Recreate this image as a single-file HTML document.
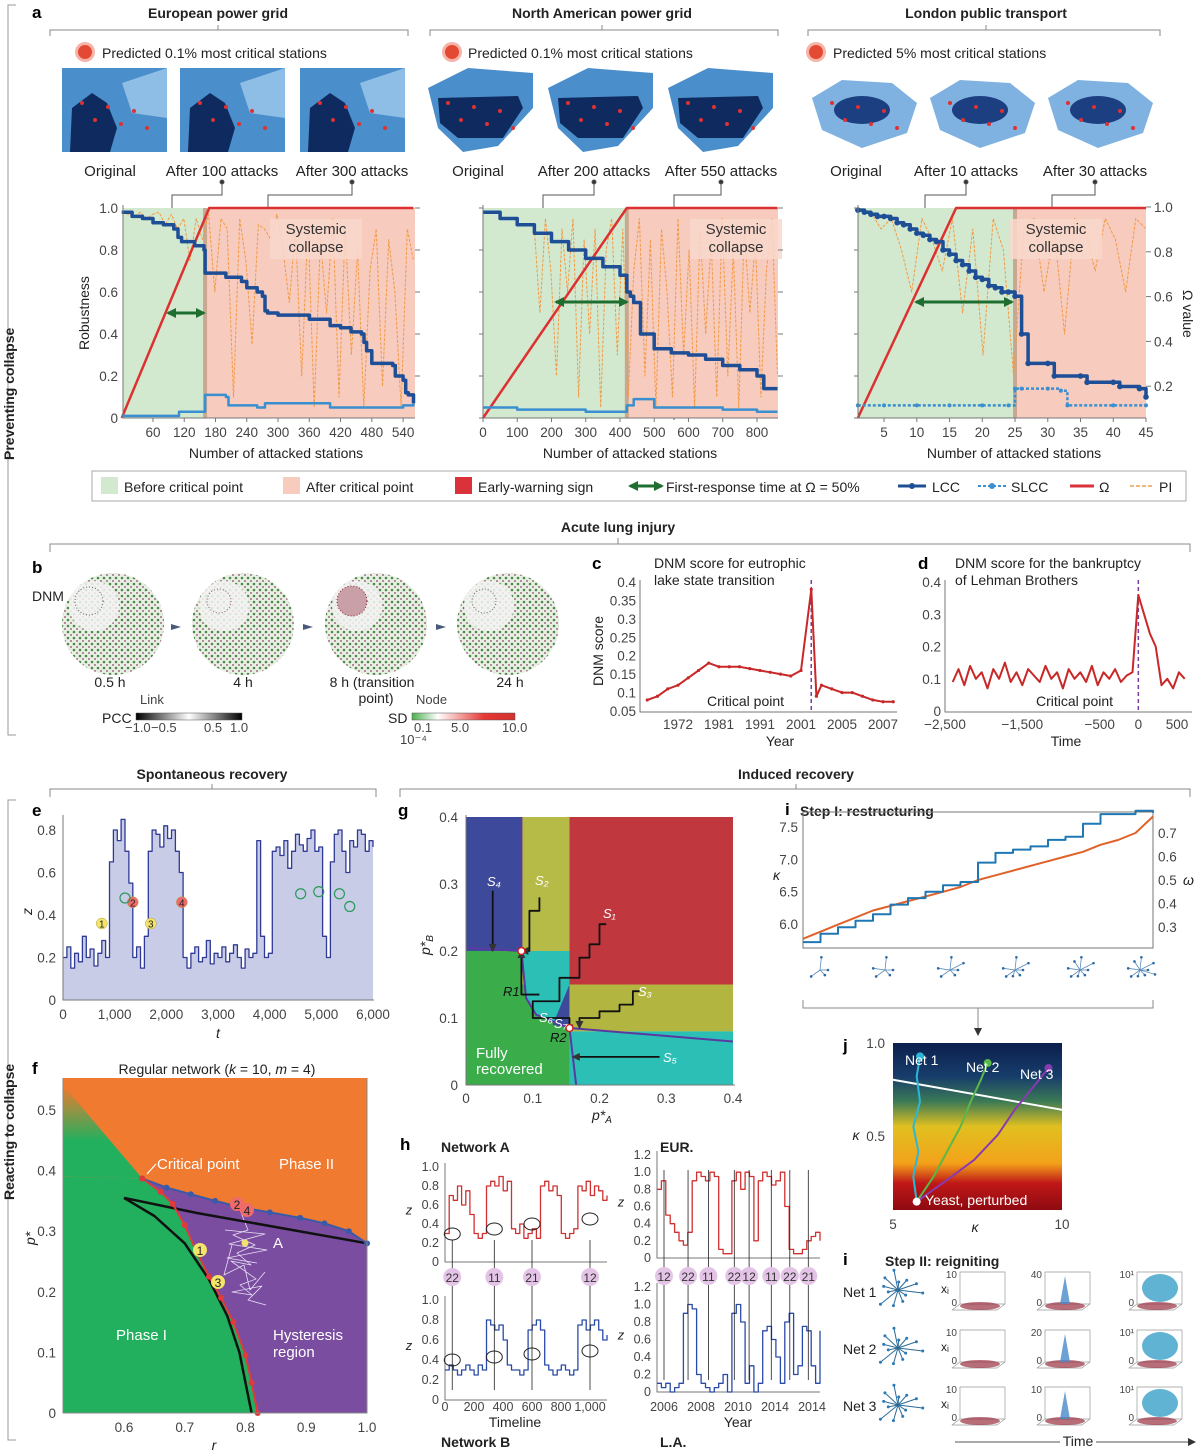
<!DOCTYPE html>
<html><head><meta charset="utf-8">
<style>
html,body{margin:0;padding:0;background:#fff;}
svg{display:block;font-family:"Liberation Sans",sans-serif;}
.t{font-size:14px;fill:#222;}
.tk{font-size:13px;fill:#444;}
.b{font-weight:bold;}
</style></head>
<body>
<svg id="fig" width="1200" height="1451" viewBox="0 0 1200 1451" xmlns="http://www.w3.org/2000/svg">
<defs>
<linearGradient id="pccg" x1="0" x2="1"><stop offset="0" stop-color="#000"/><stop offset="0.5" stop-color="#fff"/><stop offset="1" stop-color="#000"/></linearGradient>
<linearGradient id="sdg" x1="0" x2="1"><stop offset="0" stop-color="#4caf50"/><stop offset="0.25" stop-color="#fff"/><stop offset="0.7" stop-color="#e53935"/><stop offset="1" stop-color="#d32f2f"/></linearGradient>
<linearGradient id="jg" x1="0" y1="0" x2="0" y2="1"><stop offset="0" stop-color="#0c1f4d"/><stop offset="0.2" stop-color="#173d6b"/><stop offset="0.35" stop-color="#3b7a55"/><stop offset="0.5" stop-color="#e0c020"/><stop offset="0.72" stop-color="#f3a21a"/><stop offset="0.84" stop-color="#c01818"/><stop offset="1" stop-color="#8e0a10"/></linearGradient>
<linearGradient id="fgreen" x1="0" y1="0" x2="0" y2="1"><stop offset="0" stop-color="#f07a30"/><stop offset="0.6" stop-color="#22b05e"/><stop offset="1" stop-color="#22b05e"/></linearGradient>
<pattern id="dots" width="6" height="6" patternUnits="userSpaceOnUse"><rect width="6" height="6" fill="#e8efe4"/><circle cx="2" cy="2" r="1.3" fill="#4f8a4a"/><circle cx="5" cy="5" r="0.9" fill="#8a4a5a"/></pattern>
<marker id="ar" markerUnits="userSpaceOnUse" markerWidth="10" markerHeight="10" refX="8" refY="5" orient="auto"><path d="M0,0 L10,5 L0,10z" fill="#1e6e30"/></marker>
<marker id="al" markerUnits="userSpaceOnUse" markerWidth="10" markerHeight="10" refX="2" refY="5" orient="auto"><path d="M10,0 L0,5 L10,10z" fill="#1e6e30"/></marker>
<marker id="ak" markerUnits="userSpaceOnUse" markerWidth="8" markerHeight="8" refX="7" refY="4" orient="auto"><path d="M0,0 L8,4 L0,8z" fill="#333"/></marker>
</defs>

<g>
<path d="M16,5 H8 V735 H16" fill="none" stroke="#999"/>
<text class="t b" transform="translate(14,460) rotate(-90)" font-size="14">Preventing collapse</text>
<path d="M16,800 H8 V1440 H16" fill="none" stroke="#999"/>
<text class="t b" transform="translate(14,1200) rotate(-90)" font-size="14">Reacting to collapse</text>
</g>

<g>
<text x="32" y="18" class="b" font-size="17">a</text>
<text x="218" y="18" class="t b" text-anchor="middle">European power grid</text>
<path d="M50,36 V30 H408 V36 M218,30 V25" fill="none" stroke="#888"/>
<text x="602" y="18" class="t b" text-anchor="middle">North American power grid</text>
<path d="M430,36 V30 H778 V36 M602,30 V25" fill="none" stroke="#888"/>
<text x="986" y="18" class="t b" text-anchor="middle">London public transport</text>
<path d="M808,36 V30 H1160 V36 M986,30 V25" fill="none" stroke="#888"/>
<circle cx="85" cy="52" r="10" fill="#f6b3a8"/><circle cx="85" cy="52" r="7" fill="#e34a33"/>
<text x="102" y="58" class="t" font-size="15">Predicted 0.1% most critical stations</text>
<circle cx="452" cy="52" r="10" fill="#f6b3a8"/><circle cx="452" cy="52" r="7" fill="#e34a33"/>
<text x="468" y="58" class="t" font-size="15">Predicted 0.1% most critical stations</text>
<circle cx="816" cy="52" r="10" fill="#f6b3a8"/><circle cx="816" cy="52" r="7" fill="#e34a33"/>
<text x="833" y="58" class="t" font-size="15">Predicted 5% most critical stations</text>
</g>
<g id="maps"></g>
<g font-size="15" fill="#222">
<text x="110" y="176" text-anchor="middle">Original</text>
<text x="222" y="176" text-anchor="middle">After 100 attacks</text>
<text x="352" y="176" text-anchor="middle">After 300 attacks</text>
<text x="478" y="176" text-anchor="middle">Original</text>
<text x="594" y="176" text-anchor="middle">After 200 attacks</text>
<text x="721" y="176" text-anchor="middle">After 550 attacks</text>
<text x="856" y="176" text-anchor="middle">Original</text>
<text x="966" y="176" text-anchor="middle">After 10 attacks</text>
<text x="1095" y="176" text-anchor="middle">After 30 attacks</text>
</g>
<g fill="none" stroke="#555" stroke-width="1">
<path d="M222,182 V195 H172 V300"/><circle cx="222" cy="182" r="2" fill="#333"/>
<path d="M352,182 V195 H268 V400"/><circle cx="352" cy="182" r="2" fill="#333"/>
<path d="M594,182 V195 H543 V330"/><circle cx="594" cy="182" r="2" fill="#333"/>
<path d="M721,182 V195 H674 V420"/><circle cx="721" cy="182" r="2" fill="#333"/>
<path d="M966,182 V195 H925 V330"/><circle cx="966" cy="182" r="2" fill="#333"/>
<path d="M1095,182 V195 H1052 V400"/><circle cx="1095" cy="182" r="2" fill="#333"/>
</g>
<g id="charta"></g>
<g>
<text class="t" font-size="15" transform="translate(89,350) rotate(-90)">Robustness</text>
<text class="t" font-size="15" transform="translate(1183,290) rotate(90)">Ω value</text>
<text x="276" y="458" class="t" font-size="15" text-anchor="middle">Number of attacked stations</text>
<text x="630" y="458" class="t" font-size="15" text-anchor="middle">Number of attacked stations</text>
<text x="1014" y="458" class="t" font-size="15" text-anchor="middle">Number of attacked stations</text>
</g>

<g>
<rect x="92" y="471" width="1094" height="30" fill="#fff" stroke="#aaa"/>
<g><rect x="101" y="477" width="17" height="17" fill="#d3e9cf"/><text x="124" y="492" class="t" font-size="15">Before critical point</text></g>
<g><rect x="283" y="477" width="17" height="17" fill="#f7cbbd"/><text x="306" y="492" class="t" font-size="15">After critical point</text></g>
<g><rect x="455" y="477" width="17" height="17" fill="#d9323a"/><text x="478" y="492" class="t" font-size="15">Early-warning sign</text></g>
<g><line x1="630" y1="486" x2="662" y2="486" stroke="#1e6e30" stroke-width="3" marker-start="url(#al)" marker-end="url(#ar)"/><text x="666" y="492" class="t" font-size="15">First-response time at Ω = 50%</text></g>
<g><line x1="898" y1="486" x2="926" y2="486" stroke="#1d4e96" stroke-width="3"/><circle cx="912" cy="486" r="3" fill="#1d4e96"/><text x="932" y="492" class="t" font-size="15">LCC</text></g>
<g><line x1="978" y1="486" x2="1006" y2="486" stroke="#3a8fd0" stroke-width="2" stroke-dasharray="3,2"/><circle cx="992" cy="486" r="3" fill="#3a8fd0"/><text x="1011" y="492" class="t" font-size="15">SLCC</text></g>
<g><line x1="1070" y1="486" x2="1094" y2="486" stroke="#d9323a" stroke-width="3"/><text x="1099" y="492" class="t" font-size="15">Ω</text></g>
<g><line x1="1130" y1="486" x2="1154" y2="486" stroke="#f0a050" stroke-width="1.5" stroke-dasharray="4,2"/><text x="1159" y="492" class="t" font-size="15">PI</text></g>
</g>

<g>
<text x="618" y="532" class="t b" text-anchor="middle" font-size="15">Acute lung injury</text>
<path d="M50,552 V544 H1190 V552 M618,544 V538" fill="none" stroke="#888"/>
<text x="32" y="573" class="b" font-size="17">b</text>
<text x="32" y="601" class="t" font-size="14">DNM</text>
<g><circle cx="113" cy="624" r="51" fill="url(#dots)"/><circle cx="94" cy="606" r="25" fill="#f3f3f3" opacity="0.85"/><circle cx="89" cy="601" r="14" fill="none" stroke="#666" stroke-dasharray="1,2"/></g>
<g><circle cx="243" cy="624" r="51" fill="url(#dots)"/><circle cx="224" cy="606" r="25" fill="#f3f3f3" opacity="0.85"/><circle cx="219" cy="601" r="12" fill="none" stroke="#8a5a6a" stroke-dasharray="1,2"/></g>
<g><circle cx="376" cy="624" r="51" fill="url(#dots)"/><circle cx="357" cy="606" r="25" fill="#f3f3f3" opacity="0.85"/><circle cx="352" cy="601" r="15" fill="#c9a0a8" stroke="#8a2030" stroke-dasharray="1,2"/></g>
<g><circle cx="508" cy="624" r="51" fill="url(#dots)"/><circle cx="489" cy="606" r="25" fill="#f3f3f3" opacity="0.85"/><circle cx="484" cy="601" r="12" fill="none" stroke="#666" stroke-dasharray="1,2"/></g>
<g fill="#4a5a7a"><path d="M171,624 l10,3 l-10,3z"/><path d="M303,624 l10,3 l-10,3z"/><path d="M436,624 l10,3 l-10,3z"/></g>
<g fill="#222" font-size="14" text-anchor="middle"><text x="110" y="687">0.5 h</text><text x="243" y="687">4 h</text><text x="372" y="687">8 h (transition</text><text x="376" y="703">point)</text><text x="510" y="687">24 h</text></g>
<text x="140" y="704" class="tk">Link</text>
<text x="102" y="723" class="t">PCC</text>
<rect x="136" y="713" width="106" height="7" fill="url(#pccg)" stroke="#555" stroke-width="0.5"/>
<g class="tk" font-size="11"><text x="125" y="732">−1.0</text><text x="151" y="732">−0.5</text><text x="204" y="732">0.5</text><text x="230" y="732">1.0</text></g>
<text x="416" y="704" class="tk">Node</text>
<text x="388" y="723" class="t">SD</text>
<rect x="412" y="713" width="103" height="7" fill="url(#sdg)" stroke="#555" stroke-width="0.5"/>
<g class="tk" font-size="11"><text x="414" y="732">0.1</text><text x="451" y="732">5.0</text><text x="502" y="732">10.0</text><text x="400" y="744">10⁻⁴</text></g>
</g>

<g>
<text x="592" y="569" class="b" font-size="17">c</text>
<text x="654" y="568" class="t" font-size="15">DNM score for eutrophic</text>
<text x="654" y="585" class="t" font-size="15">lake state transition</text>
<text class="t" transform="translate(603,686) rotate(-90)">DNM score</text>
<text x="707" y="706" class="t" font-size="15">Critical point</text>
<text x="780" y="746" class="t" font-size="15" text-anchor="middle">Year</text>
</g>
<g>
<text x="918" y="569" class="b" font-size="17">d</text>
<text x="955" y="568" class="t" font-size="15">DNM score for the bankruptcy</text>
<text x="955" y="585" class="t" font-size="15">of Lehman Brothers</text>
<text x="1036" y="706" class="t" font-size="15">Critical point</text>
<text x="1066" y="746" class="t" font-size="15" text-anchor="middle">Time</text>
</g>
<g id="chartcd"></g>

<g>
<text x="212" y="779" class="t b" text-anchor="middle" font-size="15">Spontaneous recovery</text>
<path d="M50,797 V789 H376 V797 M212,789 V784" fill="none" stroke="#888"/>
<text x="796" y="779" class="t b" text-anchor="middle" font-size="15">Induced recovery</text>
<path d="M400,797 V789 H1190 V797 M796,789 V784" fill="none" stroke="#888"/>
</g>

<g>
<text x="32" y="816" class="b" font-size="17">e</text>
<text x="27" y="920" class="t" font-style="italic" transform="rotate(-90 27 915)">z</text>
<text x="218" y="1038" class="t" font-style="italic" text-anchor="middle">t</text>
</g>
<g id="charte"></g>
<g>
<text x="32" y="1074" class="b" font-size="17">f</text>
<text x="217" y="1074" class="t" text-anchor="middle" font-size="15">Regular network (<tspan font-style="italic">k</tspan> = 10, <tspan font-style="italic">m</tspan> = 4)</text>
<text x="30" y="1250" class="t" font-style="italic" transform="rotate(-90 30 1245)">p*</text>
<text x="214" y="1450" class="t" font-style="italic" text-anchor="middle">r</text>
</g>
<g id="chartf"></g>

<g>
<text x="398" y="816" class="b" font-size="17">g</text>
<text x="425" y="960" class="t" font-style="italic" transform="rotate(-90 425 955)">p*<tspan font-size="10" dy="3">B</tspan></text>
<text x="592" y="1120" class="t" font-style="italic">p*<tspan font-size="10" dy="3">A</tspan></text>
</g>
<g id="chartg"></g>

<g>
<text x="785" y="815" class="b" font-size="17">i</text>
<text x="800" y="816" class="t b" font-size="15">Step I: restructuring</text>
<text x="773" y="880" class="t" font-style="italic" fill="#1f77b4">κ</text>
<text x="1183" y="885" class="t" font-style="italic" fill="#e0622a">ω</text>
<path d="M803,1000 V1008 H1153 V1000 M978,1008 V1035" fill="none" stroke="#888" marker-end="url(#ak)"/>
</g>
<g id="charti"></g>
<g>
<text x="843" y="1051" class="b" font-size="17">j</text>
</g>
<g id="chartj"></g>

<g>
<text x="400" y="1150" class="b" font-size="17">h</text>
<text x="441" y="1152" class="t b">Network A</text>
<text x="660" y="1152" class="t b">EUR.</text>
<text x="441" y="1447" class="t b">Network B</text>
<text x="660" y="1447" class="t b">L.A.</text>
<text x="515" y="1427" class="t" text-anchor="middle">Timeline</text>
<text x="738" y="1427" class="t" text-anchor="middle">Year</text>
</g>
<g id="charth"></g>

<g>
<text x="843" y="1265" class="b" font-size="17">i</text>
<text x="885" y="1266" class="t b">Step II: reigniting</text>
<text x="843" y="1297" class="t">Net 1</text>
<text x="843" y="1354" class="t">Net 2</text>
<text x="843" y="1411" class="t">Net 3</text>
<line x1="955" y1="1442" x2="1195" y2="1442" stroke="#555" marker-end="url(#ak)"/>
<rect x="1060" y="1434" width="36" height="14" fill="#fff"/>
<text x="1078" y="1446" class="t" text-anchor="middle">Time</text>
</g>
<g id="step2"></g>
</svg>

<script>
// ---------------- DATA ----------------
const a1LccX = [0,20,40,60,80,100,108,115,140,158,160,200,230,240,260,270,275,280,300,360,400,420,440,460,465,470,480,520,525,540,545,550,560];
const a1LccY = [0.98,0.96,0.95,0.93,0.92,0.9,0.86,0.84,0.82,0.8,0.69,0.67,0.65,0.62,0.6,0.58,0.51,0.5,0.49,0.47,0.44,0.43,0.41,0.4,0.36,0.32,0.26,0.25,0.2,0.18,0.12,0.11,0.07];
const a1SlccX = [0,100,110,158,160,200,205,260,275,400,540,560];
const a1SlccY = [0.01,0.01,0.03,0.03,0.11,0.1,0.06,0.05,0.07,0.05,0.06,0.07];
const a1OmegaX = [0,168,560];
const a1OmegaY = [0,1,1];
const a1PiY = [0.98,0.97,0.96,0.98,0.95,0.97,0.98,0.92,0.97,0.9,0.95,0.75,0.95,0.85,0.97,0.6,0.95,0.9,0.1,0.95,0.75,0.35,0.92,0.9,0.85,0.97,0.8,0.55,0.9,0.2,0.92,0.05,0.85,0.5,0.95,0.1,0.9,0.3,0.8,0.05,0.7,0.9,0.15,0.85,0.6,0.05,0.9,0.75];
const a2LccX = [0,50,100,150,200,250,300,350,400,420,430,440,460,500,550,600,650,700,750,800,820,860];
const a2LccY = [0.98,0.95,0.92,0.88,0.84,0.8,0.76,0.72,0.68,0.6,0.58,0.55,0.4,0.33,0.31,0.3,0.28,0.25,0.23,0.2,0.14,0.14];
const a2SlccX = [0,100,200,300,400,420,440,500,600,700,800,860];
const a2SlccY = [0.05,0.04,0.04,0.03,0.03,0.06,0.09,0.05,0.05,0.04,0.03,0.03];
const a2OmegaX = [0,420,860];
const a2OmegaY = [0,1,1];
const a2PiY = [0.9,0.5,0.95,0.7,0.2,0.9,0.6,0.95,0.1,0.85,0.4,0.9,0.05,0.8,0.95,0.3,0.9,0.1,0.7,0.95,0.2,0.85,0.05,0.9,0.6,0.1,0.95,0.3,0.8,0.05,0.9,0.4,0.85,0.1,0.95,0.2,0.8,0.05,0.9,0.5,0.85,0.1,0.7,0.95,0.2];
const a3LccX = [1,2,3,4,5,6,7,8,9,10,11,12,13,14,15,16,17,18,19,20,21,22,23,24,25,26,27,30,31,35,36,40,41,44,45];
const a3LccY = [0.99,0.98,0.97,0.96,0.96,0.95,0.93,0.92,0.9,0.88,0.87,0.85,0.84,0.8,0.78,0.75,0.73,0.7,0.67,0.66,0.63,0.62,0.6,0.6,0.58,0.4,0.26,0.26,0.2,0.2,0.17,0.17,0.15,0.14,0.1];
const a3SlccX = [1,5,10,15,20,24,25,26,30,32,33,40,45];
const a3SlccY = [0.06,0.06,0.06,0.06,0.06,0.06,0.14,0.14,0.14,0.13,0.06,0.06,0.06];
const a3OmegaX = [1,16,45];
const a3OmegaY = [0,1,1];
const a3PiY = [0.98,0.9,0.95,0.8,0.6,0.95,0.85,0.7,0.95,0.5,0.9,0.3,0.95,0.8,0.2,0.9,0.95,0.6,0.9,0.4,0.95,0.9,0.7,0.95,0.85,0.6,0.95,0.9];

const cYears = ["1972","1981","1991","2001","2005","2007"];
const cYearIdx = [4,8,12,16,20,24];
const cX = [1,2,3,4,5,6,7,8,9,10,11,12,13,14,15,16,17,17.5,18,19,20,21,22,23,24,25];
const cY = [0.08,0.09,0.11,0.12,0.14,0.16,0.18,0.17,0.17,0.17,0.165,0.16,0.155,0.15,0.145,0.16,0.38,0.09,0.12,0.11,0.1,0.1,0.09,0.08,0.075,0.075];
const cTicks = [0.05,0.1,0.15,0.2,0.25,0.3,0.35,0.4];
const dXTicks = [-2500,-1500,-500,0,500];
const dXLabels = ["−2,500","−1,500","−500","0","500"];
const dYTicks = [0,0.1,0.2,0.3,0.4];
const dStart = -2400, dStep = 75;
const dY = [0.09,0.13,0.08,0.14,0.1,0.12,0.07,0.13,0.1,0.15,0.09,0.12,0.08,0.13,0.11,0.09,0.14,0.1,0.12,0.07,0.13,0.1,0.12,0.09,0.14,0.08,0.12,0.1,0.13,0.09,0.11,0.12,0.36,0.3,0.24,0.2,0.08,0.1,0.07,0.12,0.1];

const eStep = 75;
const eZ = [0.2,0.25,0.15,0.22,0.18,0.3,0.2,0.24,0.16,0.22,0.28,0.2,
 0.65,0.8,0.75,0.85,0.7,0.55,
 0.2,0.25,0.15,0.3,
 0.7,0.8,0.78,0.72,0.82,0.76,0.8,0.7,0.6,
 0.2,0.15,0.22,0.25,0.18,0.2,0.28,0.17,0.22,0.2,0.25,0.18,0.22,0.26,0.2,0.15,0.24,0.2,0.22,
 0.75,0.3,
 0.2,0.22,
 0.7,0.72,0.68,0.75,0.62,0.7,0.78,0.73,0.7,0.76,0.8,0.7,0.72,
 0.3,0.2,
 0.65,0.78,0.8,0.7,0.6,0.75,0.72,0.8,0.78,0.7,0.75,0.72];
const eXTicks = [0,1000,2000,3000,4000,5000,6000];
const eXLabels = ["0","1,000","2,000","3,000","4,000","5,000","6,000"];
const eYTicks = [0,0.2,0.4,0.6,0.8];
const eMarkT = [750,1350,1700,2300];
const eMarkZ = [0.36,0.46,0.36,0.46];
const eMarkLab = ["1","2","3","4"];
const eGreenT = [1200,4600,4950,5350,5550];
const eGreenZ = [0.48,0.5,0.51,0.5,0.44];

const fUpperR = [0.63,0.67,0.71,0.75,0.79,0.84,0.89,0.93,0.97,1.0];
const fUpperP = [0.387,0.372,0.361,0.35,0.34,0.331,0.322,0.313,0.3,0.28];
const fLowerR = [0.63,0.66,0.68,0.7,0.72,0.74,0.76,0.78,0.8,0.81,0.82];
const fLowerP = [0.387,0.365,0.345,0.31,0.265,0.225,0.19,0.15,0.095,0.05,0.0];
const fBlackR = [0.6,0.65,0.7,0.74,0.77,0.79,0.8,0.81];
const fBlackP = [0.355,0.325,0.28,0.22,0.16,0.1,0.05,0.0];
const fLineR = [0.6,0.72,1.0];
const fLineP = [0.355,0.33,0.28];
const fXTicks = [0.6,0.7,0.8,0.9,1.0];
const fYTicks = [0,0.1,0.2,0.3,0.4,0.5];

const iKappa = [5.72,5.85,5.95,6.05,6.15,6.3,6.4,6.5,6.6,6.65,6.95,7.1,7.15,7.2,7.3,7.35,7.55,7.7,7.7,7.75,7.72];
const iOmega = [0.25,0.28,0.31,0.34,0.37,0.39,0.41,0.43,0.45,0.47,0.5,0.52,0.54,0.56,0.58,0.6,0.62,0.65,0.67,0.7,0.77];
const iKTicks = [6.0,6.5,7.0,7.5];
const iWTicks = [0.3,0.4,0.5,0.6,0.7];

const jNet1K = [5.7,5.6,5.75,5.6,5.8,5.7,5.8];
const jNet1Y = [0.05,0.2,0.35,0.5,0.65,0.8,0.92];
const jNet2K = [5.7,6.2,6.6,7.0,7.3,7.6,7.8];
const jNet2Y = [0.05,0.2,0.35,0.5,0.65,0.78,0.88];
const jNet3K = [5.7,6.6,7.4,8.1,8.6,9.2,9.6];
const jNet3Y = [0.05,0.18,0.3,0.45,0.6,0.75,0.85];

const hA = [0.3,0.7,0.65,0.8,0.6,0.75,0.5,0.3,0.25,0.3,0.8,0.85,0.8,0.9,0.75,0.85,0.35,0.3,0.4,0.25,0.3,0.35,0.25,0.8,0.85,0.75,0.8,0.7,0.3,0.25,0.3,0.35,0.8,0.75,0.85,0.7,0.8,0.75,0.65,0.7];
const hB = [0.3,0.35,0.3,0.25,0.3,0.35,0.3,0.25,0.35,0.3,0.8,0.75,0.7,0.75,0.6,0.35,0.3,0.3,0.25,0.3,0.7,0.75,0.8,0.7,0.35,0.3,0.25,0.3,0.35,0.3,0.25,0.3,0.75,0.8,0.7,0.75,0.8,0.7,0.6,0.65];
const hEur = [0.8,0.9,0.5,0.4,0.3,0.2,0.15,0.3,0.9,1.0,0.95,0.9,1.0,0.95,0.1,0.05,0.05,0.9,1.0,0.8,1.0,0.95,0.2,0.9,1.0,0.95,0.85,0.9,1.0,0.6,0.1,0.05,0.05,0.1,0.2,0.25,0.3,0.2];
const hLa = [0.1,0.05,0.1,0.0,0.05,0.1,0.9,1.0,0.95,0.2,0.1,0.05,0.0,0.05,0.1,0.2,0.0,0.9,1.0,0.8,0.1,0.3,0.0,0.1,0.7,0.75,0.6,0.4,0.1,0.8,0.9,0.2,0.3,0.75,0.7,0.3,0.1,0.7];
const hALabels = ["22","11","21","12"];
const hALabelX = [50,340,600,1000];
const hEurLabels = ["12","22","11","22","12","11","22","21"];
const hEurLabelX = [2006,2007.3,2008.4,2009.8,2010.6,2011.8,2012.8,2013.8];

// ---------------- HELPERS ----------------
const NS = 'http://www.w3.org/2000/svg';
function el(tag, parent){ const e = document.createElementNS(NS, tag); parent.appendChild(e); return e; }
function lin(d0,d1,r0,r1){ return v => r0 + (v-d0)*(r1-r0)/(d1-d0); }
function pathD(xs, ys, sx, sy, step){
  let d = '';
  for (let i=0;i<xs.length;i++){
    const X = sx(xs[i]).toFixed(1), Y = sy(ys[i]).toFixed(1);
    if (i===0) d += 'M'+X+','+Y;
    else if (step) d += 'H'+X+'V'+Y;
    else d += 'L'+X+','+Y;
  }
  return d;
}
function stroke(p, col, w, dash){
  p.setAttribute('fill','none'); p.setAttribute('stroke',col); p.setAttribute('stroke-width',w);
  if (dash) p.setAttribute('stroke-dasharray',dash);
  p.setAttribute('stroke-linejoin','round');
}
function txt(parent, x, y, s, size, anchor, fill){
  const t = el('text', parent); t.setAttribute('x',x); t.setAttribute('y',y);
  t.setAttribute('font-size', size||13); t.setAttribute('fill', fill||'#444');
  if (anchor) t.setAttribute('text-anchor', anchor);
  t.textContent = s; return t;
}

// ---------------- MAPS ----------------
const maps = document.getElementById('maps');
function drawMap(x, kind, idx){
  const g = el('g', maps);
  
  
  const w = 105, y = 68, h = 84;
  if (kind==='eu'){
    const r = el('rect', g); r.setAttribute('x',x); r.setAttribute('y',y); r.setAttribute('width',w); r.setAttribute('height',h); r.setAttribute('fill','#4a8fcc');
    const b = el('path', g); b.setAttribute('d',`M${x+8},${y+h} L${x+10},${y+40} L${x+30},${y+25} L${x+45},${y+35} L${x+55},${y+60} L${x+48},${y+h}z`); b.setAttribute('fill','#0f2a5e');
    const c = el('path', g); c.setAttribute('d',`M${x+60},${y+15} L${x+w},${y} L${x+w},${y+50} L${x+70},${y+45}z`); c.setAttribute('fill','#8ebde6');
  } else if (kind==='na'){
    const r = el('path', g); r.setAttribute('d',`M${x},${y+20} L${x+40},${y} L${x+w},${y+5} L${x+w},${y+40} L${x+70},${y+78} L${x+35},${y+h} L${x+10},${y+60}z`); r.setAttribute('fill','#4a8fcc');
    const b = el('path', g); b.setAttribute('d',`M${x+10},${y+30} L${x+90},${y+28} L${x+95},${y+40} L${x+75},${y+70} L${x+30},${y+70} L${x+12},${y+55}z`); b.setAttribute('fill','#0f2a5e');
  } else {
    const r = el('path', g); r.setAttribute('d',`M${x},${y+30} L${x+30},${y+12} L${x+80},${y+15} L${x+w},${y+35} L${x+95},${y+65} L${x+50},${y+80} L${x+10},${y+62}z`); r.setAttribute('fill','#7fb2e0');
    const b = el('ellipse', g); b.setAttribute('cx',x+50); b.setAttribute('cy',y+42); b.setAttribute('rx',28); b.setAttribute('ry',14); b.setAttribute('fill','#1b3f80');
  }
  for (let k=0;k<6;k++){
    const c = el('circle', g); c.setAttribute('cx', x+20+k*13); c.setAttribute('cy', y+35+((k*17)%30)); c.setAttribute('r',2); c.setAttribute('fill','#e03030');
  }
}
[62,180,300].forEach((x,i)=>drawMap(x,'eu',i));
[428,548,668].forEach((x,i)=>drawMap(x,'na',i));
[812,930,1048].forEach((x,i)=>drawMap(x,'ldn',i));

// ---------------- PANEL A CHARTS ----------------
const ca = document.getElementById('charta');
function chartA(cfg){
  const sx = lin(cfg.d0, cfg.d1, cfg.x0, cfg.x1);
  const sy = lin(0,1, cfg.yb, cfg.yt);
  const g = el('g', ca);
  
  
  const bg1 = el('rect', g); bg1.setAttribute('x',cfg.xs); bg1.setAttribute('y',cfg.yt); bg1.setAttribute('width',sx(cfg.crit)-cfg.xs); bg1.setAttribute('height',cfg.yb-cfg.yt); bg1.setAttribute('fill','#d3e9cf');
  
  const bg2 = el('rect', g); bg2.setAttribute('x',sx(cfg.crit)); bg2.setAttribute('y',cfg.yt); bg2.setAttribute('width',cfg.xe-sx(cfg.crit)); bg2.setAttribute('height',cfg.yb-cfg.yt); bg2.setAttribute('fill','#f7cbbd');
  
  const ew = el('rect', g); ew.setAttribute('x',sx(cfg.crit)-2); ew.setAttribute('y',cfg.yt); ew.setAttribute('width',4); ew.setAttribute('height',cfg.yb-cfg.yt); ew.setAttribute('fill','#c8a890');
  
  const n = cfg.pi.length, piX = [], x0pi = cfg.piStart;
  for (let i=0;i<n;i++) piX.push(x0pi + (cfg.d1 - x0pi)*i/(n-1));
  const pi = el('path', g); pi.setAttribute('d', pathD(piX, cfg.pi, sx, sy)); stroke(pi,'#f29a45',1,'3,1.5');
  
  const lb = el('rect', g); lb.setAttribute('x',cfg.lab[0]-32); lb.setAttribute('y',cfg.lab[1]-15); lb.setAttribute('width',92); lb.setAttribute('height',40); lb.setAttribute('fill','#f9d8cc'); lb.setAttribute('opacity','0.85');
  
  const t1 = txt(g, cfg.lab[0]+14, cfg.lab[1], 'Systemic', 15, 'middle', '#333');
  
  const t2 = txt(g, cfg.lab[0]+14, cfg.lab[1]+18, 'collapse', 15, 'middle', '#333');
  
  const om = el('path', g); om.setAttribute('d', pathD(cfg.omX, cfg.omY, sx, sy)); stroke(om,'#dd3030',2.5);
  
  const sl = el('path', g); sl.setAttribute('d', pathD(cfg.slX, cfg.slY, sx, sy, true)); stroke(sl,'#3a8fd0',2.5, cfg.dots?'3,2':null);
  
  const lc = el('path', g); lc.setAttribute('d', pathD(cfg.lcX, cfg.lcY, sx, sy, true)); stroke(lc,'#1d4e96',3.5);
  
  if (cfg.dots){
    for (let i=0;i<cfg.lcX.length;i++){
      const c = el('circle', g); c.setAttribute('cx',sx(cfg.lcX[i])); c.setAttribute('cy',sy(cfg.lcY[i])); c.setAttribute('r',2.8); c.setAttribute('fill','#1d4e96');
      
    }
    for (let i=0;i<cfg.slX.length;i++){
      const c = el('circle', g); c.setAttribute('cx',sx(cfg.slX[i])); c.setAttribute('cy',sy(cfg.slY[i])); c.setAttribute('r',2); c.setAttribute('fill','#3a8fd0');
      
    }
  }
  const ar = el('line', g); ar.setAttribute('x1',cfg.arr[0]); ar.setAttribute('x2',cfg.arr[1]); ar.setAttribute('y1',cfg.arr[2]); ar.setAttribute('y2',cfg.arr[2]);
  ar.setAttribute('stroke','#1e6e30'); ar.setAttribute('stroke-width',3); ar.setAttribute('marker-start','url(#al)'); ar.setAttribute('marker-end','url(#ar)');
  
  const ax = el('path', g); ax.setAttribute('d',`M${cfg.xs},${cfg.yt-3}V${cfg.yb}H${cfg.xe}`); stroke(ax,'#777',1);
  
  cfg.xt.forEach(v=>{
    const tk = el('line', g); tk.setAttribute('x1',sx(v)); tk.setAttribute('x2',sx(v)); tk.setAttribute('y1',cfg.yb); tk.setAttribute('y2',cfg.yb+4); tk.setAttribute('stroke','#777');
    
    const l = txt(g, sx(v), cfg.yb+19, String(v), 13.5, 'middle');
    
  });
  if (cfg.leftLabels){
    [0,0.2,0.4,0.6,0.8,1.0].forEach(v=>{
      const l = txt(g, cfg.xs-5, sy(v)+5, v===0?'0':v.toFixed(1), 13.5, 'end');
      
    });
  } else {
    [0,0.2,0.4,0.6,0.8,1.0].forEach(v=>{
      const tk = el('line', g); tk.setAttribute('x1',cfg.xs-4); tk.setAttribute('x2',cfg.xs); tk.setAttribute('y1',sy(v)); tk.setAttribute('y2',sy(v)); tk.setAttribute('stroke','#777');
      
    });
  }
  [0.2,0.4,0.6,0.8,1.0].forEach(v=>{
    const yy = cfg.rightScale ? cfg.rightScale(v) : sy(v);
    const tk = el('line', g); tk.setAttribute('x1',cfg.xe); tk.setAttribute('x2',cfg.xe+5); tk.setAttribute('y1',yy); tk.setAttribute('y2',yy); tk.setAttribute('stroke','#777');
    
    if (cfg.rightScale){
      const l = txt(g, cfg.xe+8, yy+5, v.toFixed(1), 13.5, 'start');
      
    }
  });
}
chartA({name:'chart-european-grid', d0:0, d1:560, x0:121.7, x1:413.5, xs:123, xe:415, yt:208, yb:418, crit:160, piStart:0,
  pi:a1PiY, omX:a1OmegaX, omY:a1OmegaY, slX:a1SlccX, slY:a1SlccY, lcX:a1LccX, lcY:a1LccY,
  xt:[60,120,180,240,300,360,420,480,540], lab:[302,234], arr:[168,204,313], leftLabels:true});
chartA({name:'chart-north-american-grid', d0:0, d1:860, x0:483, x1:777.5, xs:483, xe:778, yt:208, yb:418, crit:420, piStart:150,
  pi:a2PiY, omX:a2OmegaX, omY:a2OmegaY, slX:a2SlccX, slY:a2SlccY, lcX:a2LccX, lcY:a2LccY,
  xt:[0,100,200,300,400,500,600,700,800], lab:[722,234], arr:[556,627,302]});
chartA({name:'chart-london-transport', d0:0, d1:45, x0:851.3, x1:1146, xs:858, xe:1146, yt:208, yb:418, crit:25, piStart:3,
  pi:a3PiY, omX:a3OmegaX, omY:a3OmegaY, slX:a3SlccX, slY:a3SlccY, lcX:a3LccX, lcY:a3LccY, dots:true,
  xt:[5,10,15,20,25,30,35,40,45], lab:[1042,234], arr:[916,1012,302], rightScale:lin(0,1,431,207)});

// ---------------- PANEL C / D ----------------
const ccd = document.getElementById('chartcd');
(function(){
  const sx = lin(0,4,637,678), sy = lin(0.05,0.4,711,582);
  const g = el('g', ccd);
  
  
  const ax = el('path', g); ax.setAttribute('d','M640,580V712H897'); stroke(ax,'#777',1);
  
  cTicks.forEach(v=>{
    const l = txt(g, 636, sy(v)+5, String(v), 13.5, 'end');
    
  });
  cYearIdx.forEach((v,i)=>{
    const l = txt(g, sx(v), 729, cYears[i], 13.5, 'middle');
    
  });
  const vl = el('line', g); vl.setAttribute('x1',sx(17)); vl.setAttribute('x2',sx(17)); vl.setAttribute('y1',580); vl.setAttribute('y2',712); stroke(vl,'#7a3fa0',1.5,'4,3');
  
  const p = el('path', g); p.setAttribute('d', pathD(cX,cY,sx,sy)); stroke(p,'#c82828',2);
  
  for (let i=0;i<cX.length;i++){
    const c = el('circle', g); c.setAttribute('cx',sx(cX[i])); c.setAttribute('cy',sy(cY[i])); c.setAttribute('r',1.6); c.setAttribute('fill','#c82828');
    
  }
})();
(function(){
  const sx = lin(-2500,500,945,1177), sy = lin(0,0.4,711,582);
  const g = el('g', ccd);
  
  
  const ax = el('path', g); ax.setAttribute('d','M945,580V712H1192'); stroke(ax,'#777',1);
  
  dYTicks.forEach(v=>{
    const l = txt(g, 941, sy(v)+5, String(v), 13.5, 'end');
    
  });
  dXTicks.forEach((v,i)=>{
    const l = txt(g, sx(v), 729, dXLabels[i], 13.5, 'middle');
    
  });
  const vl = el('line', g); vl.setAttribute('x1',sx(0)); vl.setAttribute('x2',sx(0)); vl.setAttribute('y1',580); vl.setAttribute('y2',712); stroke(vl,'#7a3fa0',1.5,'4,3');
  
  const xs = dY.map((_,i)=>dStart+i*dStep);
  const p = el('path', g); p.setAttribute('d', pathD(xs,dY,sx,sy)); stroke(p,'#c82828',2);
  
})();

// ---------------- PANEL E ----------------
(function(){
  const root = document.getElementById('charte');
  const sx = lin(0,6000,63,373), sy = lin(0,0.8,1000,830);
  const ts = eZ.map((_,i)=>i*eStep);
  const area = el('path', root);
  area.setAttribute('d', pathD(ts,eZ,sx,sy,true) + 'V1000H63Z');
  area.setAttribute('fill','#c9cce6');
  
  const ln = el('path', root); ln.setAttribute('d', pathD(ts,eZ,sx,sy,true)); stroke(ln,'#2e3a96',1.3);
  
  const ax = el('path', root); ax.setAttribute('d','M63,815V1000H374'); stroke(ax,'#777',1);
  
  eXTicks.forEach((v,i)=>{
    const l = txt(root, sx(v), 1019, eXLabels[i], 13.5, 'middle');
    
  });
  eYTicks.forEach(v=>{
    const l = txt(root, 56, sy(v)+5, v===0?'0':v.toFixed(1), 13.5, 'end');
    
  });
  eMarkT.forEach((t,i)=>{
    const c = el('circle', root); c.setAttribute('cx',sx(t)); c.setAttribute('cy',sy(eMarkZ[i])); c.setAttribute('r',5.5);
    c.setAttribute('fill', (i%2===0)?'#f4e46a':'#ef6a6a'); c.setAttribute('stroke','#b0a040'); c.setAttribute('stroke-width',0.5);
    
    const l = txt(root, sx(t), sy(eMarkZ[i])+4, eMarkLab[i], 10, 'middle', '#222');
    
  });
  eGreenT.forEach((t,i)=>{
    const c = el('circle', root); c.setAttribute('cx',sx(t)); c.setAttribute('cy',sy(eGreenZ[i])); c.setAttribute('r',5); c.setAttribute('fill','none'); c.setAttribute('stroke','#2a9a5a'); c.setAttribute('stroke-width',1.2);
    
  });
})();

// ---------------- PANEL F ----------------
(function(){
  const root = document.getElementById('chartf');
  const sx = lin(0.6,1.0,124,367), sy = lin(0,0.5,1413,1110);
  const bg = el('rect', root); bg.setAttribute('x',63); bg.setAttribute('y',1078); bg.setAttribute('width',304); bg.setAttribute('height',335); bg.setAttribute('fill','#f07a30');
  
  let d = 'M63,1413 V'+sy(0.39).toFixed(1)+' L'+sx(0.63)+','+sy(0.387);
  for (let i=1;i<fLowerR.length;i++) d += ' L'+sx(fLowerR[i]).toFixed(1)+','+sy(fLowerP[i]).toFixed(1);
  d += ' Z';
  const gr = el('path', root); gr.setAttribute('d',d); gr.setAttribute('fill','#22b05e');
  
  const gr2 = el('path', root); gr2.setAttribute('d',`M63,${sy(0.39)} V1085 L${sx(0.63)},${sy(0.387)}Z`); gr2.setAttribute('fill','url(#fgreen)');
  
  let dp = 'M'+sx(fLowerR[0])+','+sy(fLowerP[0]);
  for (let i=1;i<fUpperR.length;i++) dp += ' L'+sx(fUpperR[i]).toFixed(1)+','+sy(fUpperP[i]).toFixed(1);
  dp += ' V1413';
  for (let i=fLowerR.length-1;i>=0;i--) dp += ' L'+sx(fLowerR[i]).toFixed(1)+','+sy(fLowerP[i]).toFixed(1);
  const pu = el('path', root); pu.setAttribute('d',dp+'Z'); pu.setAttribute('fill','#7a4da0');
  
  const sc = el('path', root);
  sc.setAttribute('d','M240,1210 l8,20 l-15,5 l22,10 l-18,8 l14,12 l-20,-4 l25,18 l-16,6 l12,10 l-20,-3 l30,-6 l-14,14 l18,5 M225,1230 l40,4 l-36,10 l38,6 l-40,8 l30,5 M232,1245 l-8,30 l20,-10 l6,25 l15,-18');
  stroke(sc,'#e8e0f4',0.8);
  
  const bl = el('path', root); bl.setAttribute('d', pathD(fBlackR,fBlackP,sx,sy)); stroke(bl,'#111',2.5);
  
  const bl2 = el('path', root); bl2.setAttribute('d', pathD(fLineR,fLineP,sx,sy)); stroke(bl2,'#111',2.5);
  
  const up = el('path', root); up.setAttribute('d', pathD(fUpperR,fUpperP,sx,sy)); stroke(up,'#3a5aa8',2);
  
  fUpperR.forEach((r,i)=>{
    const c = el('circle', root); c.setAttribute('cx',sx(r)); c.setAttribute('cy',sy(fUpperP[i])); c.setAttribute('r',3); c.setAttribute('fill','#3a5aa8');
    
  });
  const lo = el('path', root); lo.setAttribute('d', pathD(fLowerR,fLowerP,sx,sy)); stroke(lo,'#e03a3a',2);
  
  fLowerR.forEach((r,i)=>{
    const c = el('circle', root); c.setAttribute('cx',sx(r)); c.setAttribute('cy',sy(fLowerP[i])); c.setAttribute('r',3); c.setAttribute('fill','#e03a3a');
    
  });
  const ax = el('path', root); ax.setAttribute('d','M63,1078V1413H367V1078'); stroke(ax,'#888',1);
  
  fXTicks.forEach(v=>{
    const l = txt(root, sx(v), 1432, v.toFixed(1), 13.5, 'middle');
    
  });
  fYTicks.forEach(v=>{
    const l = txt(root, 56, sy(v)+5, v===0?'0':v.toFixed(1), 13.5, 'end');
    
  });
  const labs = [['Critical point',157,1169],['Phase II',279,1169],['Phase I',116,1340],['Hysteresis',273,1340],['region',273,1357],['A',273,1248]];
  labs.forEach(a=>{
    const l = txt(root, a[1], a[2], a[0], 15, 'start', '#fff');
    
  });
  const ca2 = el('path', root); ca2.setAttribute('d','M156,1164 L147,1174'); stroke(ca2,'#fff',1.2);
  
  const mk = [[200,1250,'1','#f4e46a'],[218,1282,'3','#f4e46a'],[237,1204,'2','#ef6a6a'],[247,1210,'4','#ef6a6a']];
  mk.forEach(m=>{
    const c = el('circle', root); c.setAttribute('cx',m[0]); c.setAttribute('cy',m[1]); c.setAttribute('r',7); c.setAttribute('fill',m[3]);
    
    const l = txt(root, m[0], m[1]+5, m[2], 12, 'middle', '#222');
    
  });
  const pa = el('circle', root); pa.setAttribute('cx',245); pa.setAttribute('cy',1243); pa.setAttribute('r',3.5); pa.setAttribute('fill','#f4e46a');
  
})();

// ---------------- PANEL G ----------------
(function(){
  const root = document.getElementById('chartg');
  const sx = lin(0,0.4,466,733), sy = lin(0,0.4,1085,817);
  function rect(x0,y0,x1,y1,col){
    const r = el('rect', root); r.setAttribute('x',sx(x0)); r.setAttribute('y',sy(y1)); r.setAttribute('width',sx(x1)-sx(x0)); r.setAttribute('height',sy(y0)-sy(y1)); r.setAttribute('fill',col);
    return r;
  }
  let r;
  r = rect(0,0,0.155,0.2,'#3aac4a'); 
  r = rect(0,0.2,0.083,0.4,'#3d4a9c'); 
  r = rect(0.083,0.15,0.155,0.4,'#b6ba46'); 
  r = rect(0.155,0.15,0.4,0.4,'#c0383e'); 
  r = rect(0.155,0.08,0.4,0.15,'#b2b640'); 
  r = rect(0.155,0,0.4,0.08,'#2bbfb6'); 
  const wedge = el('path', root);
  wedge.setAttribute('d',`M${sx(0.083)},${sy(0.2)} L${sx(0.09)},${sy(0.13)} L${sx(0.105)},${sy(0.105)} L${sx(0.155)},${sy(0.085)} L${sx(0.155)},${sy(0.2)}Z`);
  wedge.setAttribute('fill','#2bbfb6');
  
  const wedge2 = el('path', root);
  wedge2.setAttribute('d',`M${sx(0.155)},${sy(0.15)} L${sx(0.13)},${sy(0.09)} L${sx(0.155)},${sy(0.085)}Z`);
  wedge2.setAttribute('fill','#3d4a9c');
  
  const bnd = el('path', root);
  bnd.setAttribute('d',`M${sx(0.083)},${sy(0.4)} L${sx(0.083)},${sy(0.2)} L${sx(0.09)},${sy(0.13)} L${sx(0.105)},${sy(0.105)} L${sx(0.155)},${sy(0.085)} L${sx(0.165)},${sy(0)} M${sx(0.155)},${sy(0.085)} L${sx(0.4)},${sy(0.065)} M${sx(0)},${sy(0.205)} L${sx(0.083)},${sy(0.2)}`);
  stroke(bnd,'#5a3aa0',2);
  
  const paths = [
    `M${sx(0.04)},${sy(0.29)} V${sy(0.2)}`,
    `M${sx(0.11)},${sy(0.28)} V${sy(0.26)} H${sx(0.095)} V${sy(0.2)} H${sx(0.083)}`,
    `M${sx(0.21)},${sy(0.24)} H${sx(0.2)} V${sy(0.21)} H${sx(0.185)} V${sy(0.19)} H${sx(0.17)} V${sy(0.16)} H${sx(0.14)} V${sy(0.125)} H${sx(0.1)} V${sy(0.1)} H${sx(0.155)} V${sy(0.08)}`,
    `M${sx(0.26)},${sy(0.14)} H${sx(0.25)} V${sy(0.12)} H${sx(0.23)} V${sy(0.11)} H${sx(0.2)} V${sy(0.1)} H${sx(0.17)} V${sy(0.085)}`,
    `M${sx(0.29)},${sy(0.042)} H${sx(0.16)}`,
    `M${sx(0.11)},${sy(0.135)} H${sx(0.083)} V${sy(0.2)}`];
  paths.forEach(p=>{
    const e = el('path', root); e.setAttribute('d',p); stroke(e,'#111',1.8); e.setAttribute('marker-end','url(#ak)');
    
  });
  [[sx(0.083),sy(0.2)],[sx(0.155),sy(0.085)]].forEach(pt=>{
    const c = el('circle', root); c.setAttribute('cx',pt[0]); c.setAttribute('cy',pt[1]); c.setAttribute('r',3.5); c.setAttribute('fill','#fff'); c.setAttribute('stroke','#d02020'); c.setAttribute('stroke-width',1.5);
    
  });
  const labs = [['S₄',487,886],['S₂',535,885],['S₁',603,918],['S₃',638,996],['S₅',663,1062],['S₆',539,1022],['S₇',554,1028],['R1',503,996],['R2',550,1042]];
  labs.forEach(a=>{
    const l = txt(root, a[1], a[2], a[0], 13, 'start', '#fff');
    if (a[0][0]==='R') l.setAttribute('fill','#111');
    l.setAttribute('font-style','italic');
    
  });
  const f1 = txt(root, 476, 1058, 'Fully', 15, 'start', '#fff'); 
  const f2 = txt(root, 476, 1074, 'recovered', 15, 'start', '#fff'); 
  const ax = el('path', root); ax.setAttribute('d','M466,815V1085H735'); stroke(ax,'#777',1);
  
  [0,0.1,0.2,0.3,0.4].forEach(v=>{
    const l = txt(root, sx(v), 1103, v===0?'0':v.toFixed(1), 13.5, 'middle'); 
    const l2 = txt(root, 458, sy(v)+5, v===0?'0':v.toFixed(1), 13.5, 'end'); 
  });
})();

// ---------------- PANEL I ----------------
(function(){
  const root = document.getElementById('charti');
  const sx = lin(0,20,803,1153), sk = lin(6.0,7.5,924,827), sw = lin(0.3,0.7,927,833);
  const xs = iKappa.map((_,i)=>i);
  const box = el('rect', root); box.setAttribute('x',803); box.setAttribute('y',812); box.setAttribute('width',350); box.setAttribute('height',136); box.setAttribute('fill','none'); box.setAttribute('stroke','#777');
  
  const w = el('path', root); w.setAttribute('d', pathD(xs,iOmega,sx,sw)); stroke(w,'#e0622a',2);
  
  const k = el('path', root); k.setAttribute('d', pathD(xs,iKappa,sx,sk,true)); stroke(k,'#1f77b4',2);
  
  iKTicks.forEach(v=>{ const l = txt(root, 798, sk(v)+5, v.toFixed(1), 13.5, 'end');  });
  iWTicks.forEach(v=>{ const l = txt(root, 1158, sw(v)+5, v.toFixed(1), 13.5, 'start');  });
  [820,885,950,1015,1080,1140].forEach((x,i)=>{
    const g = el('g', root);
    
    
    const n = 4+i;
    for (let j=0;j<n;j++){
      const a = j*2.4; const r = 8+ (j%3)*4;
      const l = el('line', g); l.setAttribute('x1',x); l.setAttribute('y1',970); l.setAttribute('x2',x+Math.cos(a)*r); l.setAttribute('y2',970+Math.sin(a)*r*0.8); l.setAttribute('stroke','#5a8ab8'); l.setAttribute('stroke-width',0.8);
      const c = el('circle', g); c.setAttribute('cx',x+Math.cos(a)*r); c.setAttribute('cy',970+Math.sin(a)*r*0.8); c.setAttribute('r',1.3); c.setAttribute('fill','#2a6aa8');
    }
  });
})();

// ---------------- PANEL J ----------------
(function(){
  const root = document.getElementById('chartj');
  const sx = lin(5,10,893,1062), sy = lin(0,1,1210,1043);
  const bg = el('rect', root); bg.setAttribute('x',893); bg.setAttribute('y',1043); bg.setAttribute('width',169); bg.setAttribute('height',167); bg.setAttribute('fill','url(#jg)');
  
  const wl = el('line', root); wl.setAttribute('x1',893); wl.setAttribute('y1',sy(0.78)); wl.setAttribute('x2',1062); wl.setAttribute('y2',sy(0.6)); stroke(wl,'#fff',2);
  
  [[jNet1K,jNet1Y,'#2ab8d8','j-net1-path'],[jNet2K,jNet2Y,'#5ab848','j-net2-path'],[jNet3K,jNet3Y,'#8a3ab0','j-net3-path']].forEach(s=>{
    const p = el('path', root); p.setAttribute('d', pathD(s[0],s[1],sx,sy)); stroke(p,s[2],2);
    
    const c = el('circle', root); c.setAttribute('cx',sx(s[0][s[0].length-1])); c.setAttribute('cy',sy(s[1][s[1].length-1])); c.setAttribute('r',4); c.setAttribute('fill',s[2]);
    
  });
  const st = el('circle', root); st.setAttribute('cx',sx(5.7)); st.setAttribute('cy',sy(0.05)); st.setAttribute('r',4); st.setAttribute('fill','#fff');
  
  [['Net 1',905,1065],['Net 2',966,1072],['Net 3',1020,1079],['Yeast, perturbed',925,1205]].forEach(a=>{
    const l = txt(root, a[1], a[2], a[0], 14, 'start', '#fff'); 
  });
  [['1.0',885,1048],['0.5',885,1141]].forEach(a=>{ const l = txt(root,a[1],a[2],a[0],13.5,'end');  });
  [['5',893],['10',1062]].forEach(a=>{ const l = txt(root,a[1],1229,a[0],13.5,'middle');  });
  const k1 = txt(root, 975, 1232, 'κ', 14, 'middle', '#222'); k1.setAttribute('font-style','italic'); 
  const k2 = txt(root, 856, 1140, 'κ', 14, 'middle', '#222'); k2.setAttribute('font-style','italic'); 
})();

// ---------------- PANEL H ----------------
(function(){
  const root = document.getElementById('charth');
  function small(vals, x0, x1, yb, yt, ymax, col, ticks, name){
    const sx = lin(0, vals.length-1, x0, x1), sy = lin(0, ymax, yb, yt);
    const xs = vals.map((_,i)=>i);
    const g = el('g', root);
    
    
    const ax = el('path', g); ax.setAttribute('d',`M${x0},${yt-4}V${yb}H${x1}`); stroke(ax,'#777',1);
    
    const p = el('path', g); p.setAttribute('d', pathD(xs, vals, sx, sy, true)); stroke(p,col,1.3);
    
    ticks.forEach(v=>{
      const l = txt(g, x0-6, sy(v)+4, v===0?'0':v.toFixed(1), 12.5, 'end');
      
    });
    const z = txt(g, x0-36, (yb+yt)/2, 'z', 13, 'middle', '#222'); z.setAttribute('font-style','italic'); 
    return {sx, sy};
  }
  small(hA, 445, 607, 1262, 1167, 1.0, '#d03030', [0,0.2,0.4,0.6,0.8,1.0], 'h-network-a');
  small(hB, 445, 607, 1400, 1300, 1.0, '#2a4aa8', [0,0.2,0.4,0.6,0.8,1.0], 'h-network-b');
  small(hEur, 657, 820, 1258, 1155, 1.2, '#d03030', [0,0.2,0.4,0.6,0.8,1.0,1.2], 'h-eur');
  small(hLa, 657, 820, 1392, 1287, 1.2, '#2a4aa8', [0,0.2,0.4,0.6,0.8,1.0,1.2], 'h-la');
  const sxA = lin(0,1000,445,590);
  [0,200,400,600,800,1000].forEach(v=>{ const l = txt(root, sxA(v), 1411, v===1000?'1,000':String(v), 12.5, 'middle');  });
  const sxY = lin(2006,2014,664,812);
  [2006,2008,2010,2014,2014].forEach((v,i)=>{ const l = txt(root, i===3?sxY(2012):sxY(v), 1411, i===3?'2014':String(v), 12.5, 'middle');  });
  hALabels.forEach((s,i)=>{
    const x = sxA(hALabelX[i]);
    const ln = el('line', root); ln.setAttribute('x1',x); ln.setAttribute('x2',x); ln.setAttribute('y1',1240); ln.setAttribute('y2',1390); stroke(ln,'#222',0.8);
    
    const c = el('circle', root); c.setAttribute('cx',x); c.setAttribute('cy',1277); c.setAttribute('r',9); c.setAttribute('fill','#e4c4e6');
    
    const l = txt(root, x, 1282, s, 12, 'middle', '#333'); 
    const e1 = el('ellipse', root); e1.setAttribute('cx',x); e1.setAttribute('cy',1234-i*5); e1.setAttribute('rx',8); e1.setAttribute('ry',6); stroke(e1,'#222',1);
    
    const e2 = el('ellipse', root); e2.setAttribute('cx',x); e2.setAttribute('cy',1360-i*3); e2.setAttribute('rx',8); e2.setAttribute('ry',6); stroke(e2,'#222',1);
    
  });
  hEurLabels.forEach((s,i)=>{
    const x = sxY(hEurLabelX[i]);
    const ln = el('line', root); ln.setAttribute('x1',x); ln.setAttribute('x2',x); ln.setAttribute('y1',1170); ln.setAttribute('y2',1380); stroke(ln,'#222',0.8);
    
    const c = el('circle', root); c.setAttribute('cx',x); c.setAttribute('cy',1276); c.setAttribute('r',9); c.setAttribute('fill','#e4c4e6');
    
    const l = txt(root, x, 1281, s, 12, 'middle', '#333'); 
  });
})();

// ---------------- STEP II ----------------
(function(){
  const root = document.getElementById('step2');
  [1290,1348,1405].forEach((cy,row)=>{
    const g = el('g', root);
    
    
    for (let j=0;j<12;j++){
      const a = j*0.55 - 1.5, r = 10 + (j%4)*5;
      const l = el('line', g); l.setAttribute('x1',898); l.setAttribute('y1',cy); l.setAttribute('x2',898+Math.cos(a)*r); l.setAttribute('y2',cy+Math.sin(a)*r*0.8); l.setAttribute('stroke','#2a6a98'); l.setAttribute('stroke-width',1);
      const c = el('circle', g); c.setAttribute('cx',898+Math.cos(a)*r); c.setAttribute('cy',cy+Math.sin(a)*r*0.8); c.setAttribute('r',1.5); c.setAttribute('fill','#2a7ab8');
    }
    [975,1060,1152].forEach((bx,k)=>{
      const b = el('path', g); b.setAttribute('d',`M${bx-15},${cy-18} h45 v32 h-45z M${bx-15},${cy+14} l-8,6 h45 l8,-6`); stroke(b,'#999',0.7);
      const base = el('ellipse', g); base.setAttribute('cx',bx+5); base.setAttribute('cy',cy+16); base.setAttribute('rx',20); base.setAttribute('ry',4); base.setAttribute('fill','#9a3040'); base.setAttribute('opacity','0.7');
      if (k===1){ const sp = el('path', g); sp.setAttribute('d',`M${bx},${cy+14} L${bx+5},${cy-14} L${bx+10},${cy+14}z`); sp.setAttribute('fill','#4a8ac8'); sp.setAttribute('opacity','0.8'); }
      if (k===2){ const bl = el('ellipse', g); bl.setAttribute('cx',bx+8); bl.setAttribute('cy',cy-2); bl.setAttribute('rx',18); bl.setAttribute('ry',14); bl.setAttribute('fill','#3aa0c8'); bl.setAttribute('opacity','0.8'); }
      const l1 = txt(g, bx-18, cy-12, k===0?'10':(k===1?(row===0?'40':(row===1?'20':'10')):'10¹'), 10, 'end'); 
      const l2 = txt(g, bx-18, cy+16, '0', 10, 'end'); 
    });
    const xi = txt(g, 945, cy+3, 'xᵢ', 12, 'middle', '#222'); 
  });
})();
</script>
</body></html>
